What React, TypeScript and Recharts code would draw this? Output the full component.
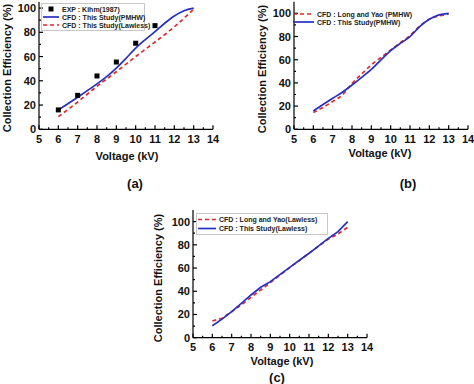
import React from 'react';
import { ComposedChart, Line, Scatter, XAxis, YAxis } from 'recharts';

const W = 474;
const H = 384;
const FONT = "'Liberation Sans', Arial, Helvetica, sans-serif";
const BLUE = '#2630c4';
const RED = '#e02a2e';

// tick values
const voltageTicks = [5, 5.5, 6, 6.5, 7, 7.5, 8, 8.5, 9, 9.5, 10, 10.5, 11, 11.5, 12, 12.5, 13, 13.5, 14];
const efficiencyTicks = [0, 10, 20, 30, 40, 50, 60, 70, 80, 90, 100];

// (a) experiment vs this study
const expVoltage = [6, 7, 8, 9, 10, 11];
const expKihm = [16, 28, 44, 55.5, 71, 85.5];
const pmhwVoltageA = [6, 7, 8, 8.5, 9, 9.5, 10, 10.5, 11, 11.5, 12, 12.5, 13];
const pmhwStudyA = [16, 26.5, 37.5, 43.5, 50.5, 58.5, 67, 74, 80.5, 87.5, 93.5, 97.8, 100];
const lawlessVoltageA = [6, 7, 8, 9, 10, 11, 12, 13];
const lawlessStudyA = [10.4, 22.5, 35.5, 47.5, 60, 72, 84.5, 99];

// (b) PMHW model
const voltageB = [6, 7, 7.5, 8, 8.5, 9, 9.5, 10, 10.5, 11, 11.5, 12, 12.5, 13];
const longYaoPmhw = [14.4, 23.9, 29.6, 39.5, 47.7, 55.5, 62, 68.4, 74.7, 80.8, 89, 94.8, 97.7, 99.4];
const studyPmhwB = [15.8, 26.7, 32, 38.2, 44.8, 51.7, 59.8, 67.8, 74.1, 79.9, 88.5, 94.8, 98.6, 100];

// (c) Lawless model
const voltageC = [6, 6.5, 7, 7.5, 8, 8.5, 9, 10, 11, 12, 12.5, 13];
const longYaoLawless = [14.4, 16.7, 22.4, 28.2, 34.8, 41.1, 47.4, 60.3, 72.7, 85, 89.4, 95.1];
const studyLawlessC = [10.3, 16, 22.4, 29.6, 36.8, 43.4, 48.3, 60.6, 72.7, 85.6, 91.4, 100];

type Pt = { x: number; y: number };
const toPoints = (xs: number[], ys: number[]): Pt[] => xs.map((x, i) => ({ x, y: ys[i] }));

type Series = {
  name: string;
  kind: 'solid' | 'dashed' | 'square';
  points: Pt[];
  curve: 'monotone' | 'linear';
};

type PanelSpec = {
  id: string;
  left: number;
  right: number;
  top: number;
  bottom: number;
  yMax: number;
  series: Series[];
  legend: { left: number; top: number; width: number; row: number; sample: number; border: boolean };
  yTitle: { x: number; y: number };
  xTitle: { x: number; y: number };
  tag: { x: number; y: number; text: string };
};

const panels: PanelSpec[] = [
  {
    id: 'a',
    left: 39,
    right: 213,
    top: 2,
    bottom: 129.3,
    yMax: 105,
    series: [
      { name: 'EXP : Kihm(1987)', kind: 'square', points: toPoints(expVoltage, expKihm), curve: 'linear' },
      { name: 'CFD : This Study(PMHW)', kind: 'solid', points: toPoints(pmhwVoltageA, pmhwStudyA), curve: 'monotone' },
      { name: 'CFD : This Study(Lawless)', kind: 'dashed', points: toPoints(lawlessVoltageA, lawlessStudyA), curve: 'monotone' },
    ],
    legend: { left: 41, top: 3, width: 101, row: 8, sample: 16, border: true },
    yTitle: { x: 7, y: 68 },
    xTitle: { x: 127, y: 156 },
    tag: { x: 135, y: 183, text: '(a)' },
  },
  {
    id: 'b',
    left: 294,
    right: 468,
    top: 1.7,
    bottom: 129.3,
    yMax: 110,
    series: [
      { name: 'CFD : Long and Yao (PMHW)', kind: 'dashed', points: toPoints(voltageB, longYaoPmhw), curve: 'monotone' },
      { name: 'CFD : This Study(PMHW)', kind: 'solid', points: toPoints(voltageB, studyPmhwB), curve: 'monotone' },
    ],
    legend: { left: 291, top: 8, width: 120, row: 8, sample: 21, border: false },
    yTitle: { x: 262, y: 69 },
    xTitle: { x: 380, y: 153 },
    tag: { x: 408, y: 183, text: '(b)' },
  },
  {
    id: 'c',
    left: 193,
    right: 367,
    top: 210,
    bottom: 337.7,
    yMax: 110,
    series: [
      { name: 'CFD : Long and Yao(Lawless)', kind: 'dashed', points: toPoints(voltageC, longYaoLawless), curve: 'linear' },
      { name: 'CFD : This Study(Lawless)', kind: 'solid', points: toPoints(voltageC, studyLawlessC), curve: 'linear' },
    ],
    legend: { left: 196, top: 213, width: 129, row: 9, sample: 18, border: true },
    yTitle: { x: 158, y: 278 },
    xTitle: { x: 282, y: 360.5 },
    tag: { x: 277, y: 377, text: '(c)' },
  },
];

const isMajorX = (v: number) => Number.isInteger(v);
const isMajorY = (v: number) => v % 20 === 0;

function BottomTick(props: any) {
  const { x, y, payload } = props;
  const major = isMajorX(payload.value);
  return (
    <g>
      <line x1={x} x2={x} y1={y} y2={y - (major ? 4 : 2)} stroke="#000" strokeWidth={1.2} />
      {major && (
        <text x={x} y={y + 13.5} textAnchor="middle" fontFamily={FONT} fontWeight="bold" fontSize={11} fill="#111">
          {payload.value}
        </text>
      )}
    </g>
  );
}

function TopTick(props: any) {
  const { x, y, payload } = props;
  const major = isMajorX(payload.value);
  return <line x1={x} x2={x} y1={y} y2={y + (major ? 4 : 2)} stroke="#000" strokeWidth={1.2} />;
}

function LeftTick(props: any) {
  const { x, y, payload } = props;
  const major = isMajorY(payload.value);
  return (
    <g>
      <line x1={x} x2={x + (major ? 4 : 2)} y1={y} y2={y} stroke="#000" strokeWidth={1.2} />
      {major && (
        <text x={x - 3} y={y + 4} textAnchor="end" fontFamily={FONT} fontWeight="bold" fontSize={11} fill="#111">
          {payload.value}
        </text>
      )}
    </g>
  );
}

function RightTick(props: any) {
  const { x, y, payload } = props;
  const major = isMajorY(payload.value);
  return <line x1={x} x2={x - (major ? 4 : 2)} y1={y} y2={y} stroke="#000" strokeWidth={1.2} />;
}

function SquareDot(props: any) {
  const { cx, cy } = props;
  return <rect x={cx - 2.5} y={cy - 2.5} width={5} height={5} fill="#000" />;
}

function Panel({ p }: { p: PanelSpec }) {
  return (
    <div style={{ position: 'absolute', left: 0, top: 0 }}>
      <ComposedChart
        width={W}
        height={H}
        margin={{ top: p.top, right: W - p.right, bottom: 0, left: 0 }}
      >
        <XAxis
          xAxisId="bottom"
          dataKey="x"
          type="number"
          domain={[5, 14]}
          ticks={voltageTicks}
          interval={0}
          height={H - p.bottom}
          tickSize={0}
          tickMargin={0}
          tickLine={false}
          tick={<BottomTick />}
          axisLine={{ stroke: '#000', strokeWidth: 1.2 }}
          allowDataOverflow
        />
        <XAxis
          xAxisId="top"
          orientation="top"
          dataKey="x"
          type="number"
          domain={[5, 14]}
          ticks={voltageTicks}
          interval={0}
          height={0}
          tickSize={0}
          tickMargin={0}
          tickLine={false}
          tick={<TopTick />}
          axisLine={{ stroke: '#000', strokeWidth: 1.2 }}
        />
        <YAxis
          yAxisId="left"
          type="number"
          domain={[0, p.yMax]}
          ticks={efficiencyTicks}
          interval={0}
          width={p.left}
          tickSize={0}
          tickMargin={0}
          tickLine={false}
          tick={<LeftTick />}
          axisLine={{ stroke: '#000', strokeWidth: 1.2 }}
          allowDataOverflow
        />
        <YAxis
          yAxisId="right"
          orientation="right"
          type="number"
          domain={[0, p.yMax]}
          ticks={efficiencyTicks}
          interval={0}
          width={0}
          tickSize={0}
          tickMargin={0}
          tickLine={false}
          tick={<RightTick />}
          axisLine={{ stroke: '#000', strokeWidth: 1.2 }}
        />
        {p.series.map((s) =>
          s.kind === 'square' ? (
            <Scatter
              key={s.name}
              name={s.name}
              xAxisId="bottom"
              yAxisId="left"
              data={s.points}
              dataKey="y"
              shape={<SquareDot />}
              isAnimationActive={false}
            />
          ) : (
            <Line
              key={s.name}
              name={s.name}
              xAxisId="bottom"
              yAxisId="left"
              data={s.points}
              dataKey="y"
              type={s.curve}
              stroke={s.kind === 'solid' ? BLUE : RED}
              strokeWidth={1.7}
              strokeDasharray={s.kind === 'dashed' ? '4 3' : undefined}
              dot={false}
              activeDot={false}
              isAnimationActive={false}
            />
          ),
        )}
      </ComposedChart>
    </div>
  );
}

function PanelLegend({ p }: { p: PanelSpec }) {
  const lg = p.legend;
  return (
    <div
      style={{
        position: 'absolute',
        left: lg.left,
        top: lg.top,
        width: lg.width,
        padding: '1px 0 1px 1px',
        border: lg.border ? '1px solid #c8c8c8' : '1px solid transparent',
        fontFamily: FONT,
        fontWeight: 'bold',
        fontSize: 7,
        color: '#222',
      }}
    >
      {p.series.map((s) => (
        <div key={s.name} style={{ display: 'flex', alignItems: 'center', height: lg.row, whiteSpace: 'nowrap' }}>
          <svg width={lg.sample} height={lg.row} style={{ marginRight: 3, flex: 'none' }}>
            {s.kind === 'square' ? (
              <rect x={lg.sample / 2 - 2.5} y={lg.row / 2 - 2.5} width={5} height={5} fill="#000" />
            ) : (
              <line
                x1={0}
                x2={lg.sample}
                y1={lg.row / 2}
                y2={lg.row / 2}
                stroke={s.kind === 'solid' ? BLUE : RED}
                strokeWidth={1.7}
                strokeDasharray={s.kind === 'dashed' ? '4 3' : undefined}
              />
            )}
          </svg>
          <span>{s.name}</span>
        </div>
      ))}
    </div>
  );
}

const titleStyle: React.CSSProperties = {
  position: 'absolute',
  fontFamily: FONT,
  fontWeight: 'bold',
  fontSize: 11,
  color: '#111',
  whiteSpace: 'nowrap',
  lineHeight: 1,
};

export default function App() {
  return (
    <div style={{ position: 'absolute', left: 0, top: 0, width: W, height: H, background: '#fff', overflow: 'hidden' }}>
      {panels.map((p) => (
        <React.Fragment key={p.id}>
          <Panel p={p} />
          <PanelLegend p={p} />
          <div style={{ ...titleStyle, left: p.yTitle.x, top: p.yTitle.y, transform: 'translate(-50%, -50%) rotate(-90deg)' }}>
            Collection Efficiency (%)
          </div>
          <div style={{ ...titleStyle, left: p.xTitle.x, top: p.xTitle.y, transform: 'translate(-50%, -50%)' }}>
            Voltage (kV)
          </div>
          <div style={{ ...titleStyle, fontSize: 13, left: p.tag.x, top: p.tag.y, transform: 'translate(-50%, -50%)' }}>
            {p.tag.text}
          </div>
        </React.Fragment>
      ))}
    </div>
  );
}
